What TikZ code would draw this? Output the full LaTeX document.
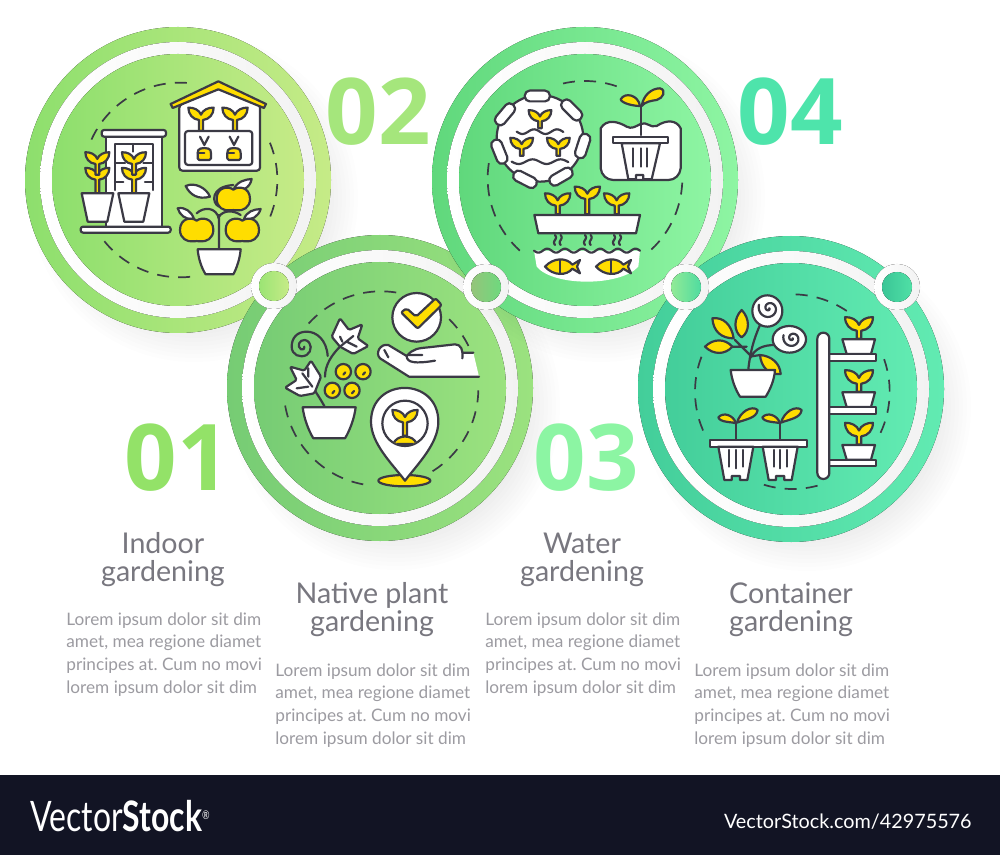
\documentclass[tikz,border=0pt]{standalone}
\usepackage{fontspec}
\setmainfont{Lato}
\newfontfamily\numfont{Open Sans}
\usepackage{tikz}
\usetikzlibrary{positioning}

\definecolor{inkc}{HTML}{3B3A45}
\definecolor{sunc}{HTML}{FFDD00}
\definecolor{stripc}{HTML}{121424}
\definecolor{titlec}{HTML}{78777F}
\definecolor{bodyc}{HTML}{9C9BA1}
\definecolor{n1}{HTML}{93E268}
\definecolor{n2}{HTML}{A5E67C}
\definecolor{n3}{HTML}{8CF5A3}
\definecolor{n4}{HTML}{4EE4AB}

\tikzset{
	inkline/.style={draw=inkc,line width=1.1pt,line join=round,line cap=round},
	whitepart/.style={inkline,fill=white},
	yellowpart/.style={inkline,fill=sunc},
	dashring/.style={draw=inkc,line width=.85pt,dash pattern=on 6pt off 4.6pt},
	softshade/.style={left color=white,right color=black!5},
	heading/.style={text=titlec,font=\fontsize{14.3}{14}\selectfont,align=center,inner sep=0pt},
	blurb/.style={text=bodyc,font=\fontsize{8.6}{11.35}\selectfont,align=left,inner sep=0pt,anchor=north west},
	numeral/.style={font=\numfont\fontsize{46}{46}\selectfont\bfseries,inner sep=0pt},
	sprout/.pic={
		\draw[yellowpart] (-6,#1) -- (-6,2) .. controls (-25,0) and (-38,-15) .. (-38,-35)
			.. controls (-22,-36) and (-5,-28) .. (0,-14)
			.. controls (5,-28) and (22,-36) .. (38,-35)
			.. controls (38,-15) and (25,0) .. (6,2) -- (6,#1) -- cycle;
	},
	apple/.pic={
		\draw[yellowpart] (0,-28) .. controls (15,-40) and (50,-36) .. (50,0)
			.. controls (50,26) and (28,36) .. (12,34) .. controls (5,33) and (-5,33) .. (-12,34)
			.. controls (-28,36) and (-50,26) .. (-50,0) .. controls (-50,-36) and (-15,-40) .. (0,-28) -- cycle;
	},
	swirl/.pic={
		\draw[inkline] plot[domain=0:560,samples=40,smooth] ({#1*(\x/560)*cos(\x)},{#1*(\x/560)*sin(\x)});
	},
	fish/.pic={
		\draw[yellowpart] (-50,0) .. controls (-25,-28) and (15,-28) .. (32,-6) -- (55,-20) -- (46,0) -- (55,20) -- (32,6)
			.. controls (15,28) and (-25,28) .. (-50,0) -- cycle;
		\draw[inkline] (-5,-20) -- (-5,20);
	},
}

\begin{document}
\frenchspacing
\begin{tikzpicture}[x=.5pt,y=-.5pt]
	\useasboundingbox (0,0) rectangle (1000,855);
	\fill[white] (0,0) rectangle (1000,855);

	\coordinate (hub1) at (178,180);
	\coordinate (hub2) at (380,388);
	\coordinate (hub3) at (585,180);
	\coordinate (hub4) at (791,389);

	% the four discs
	\foreach \n/\l/\r in {1/8DDF6D/C6EB87, 2/76CC74/9BE27F, 3/60D87C/8EF5A3, 4/43CE9A/62EBB2}{
		\definecolor{lc}{HTML}{\l}
		\definecolor{rc}{HTML}{\r}
		\foreach \s in {132,136,...,164}
			\fill[black,opacity=.009] (hub\n) ++(16,18) circle[radius=\s];
		\fill[left color=lc,right color=rc] (hub\n) circle[radius=153];
		\fill[softshade] (hub\n) circle[radius=138];
		\fill[left color=lc,right color=rc] (hub\n) circle[radius=126];
	}

	% small joints
	\foreach \x/\y/\l/\r in {274/286/9BE474/C6EB87, 486/287/95C47A/6ED97E, 686/287/92EA96/4FDBA0, 897/287/3AC596/50E0A6}{
		\definecolor{lc}{HTML}{\l}
		\definecolor{rc}{HTML}{\r}
		\fill[softshade] (\x,\y) circle[radius=23];
		\fill[left color=lc,right color=rc] (\x,\y) circle[radius=15];
	}

	% indoor
	\begin{scope}[shift={(20,20)},scale=1/3]
		\foreach \a/\b in {86/157, 219/279, -22/24}
			\draw[dashring] (480,480) ++(-\a:292) arc[start angle=-\a,end angle=-\b,radius=292];
		\draw[whitepart] (258,345) rectangle (425,620);
		\draw[inkline] (285,510) -- (285,372) -- (398,372) -- (398,510);
		\draw[inkline] (285,430) -- (315,430) (370,430) -- (398,430) (340,372) -- (340,395) (285,487) -- (310,487) (375,487) -- (398,487);
		\draw[whitepart,rounded corners=1.2pt] (245,330) rectangle (438,350);
		\draw[whitepart,rounded corners=1.2pt] (182,620) rectangle (452,638);
		\foreach \x in {232,342}{
			\pic[transform shape,scale=.95] at (\x,477) {sprout=45};
			\pic[transform shape,scale=.95] at (\x,430) {sprout=36};
		}
		\draw[whitepart] (185,520) -- (280,520) -- (262,605) -- (203,605) -- cycle;
		\draw[whitepart] (295,520) -- (388,520) -- (370,605) -- (313,605) -- cycle;
		% house
		\draw[whitepart,rounded corners=1.5pt] (478,255) -- (595,205) -- (720,255) -- (720,452) -- (478,452) -- cycle;
		\pic[transform shape] at (543,298) {sprout=35};
		\pic[transform shape] at (645,298) {sprout=35};
		\draw[whitepart,rounded corners=1.5pt] (495,333) rectangle (697,435);
		\foreach \x in {553,642}{
			\draw[inkline] (\x-13,350) -- (\x,375) -- (\x+13,350);
			\draw[yellowpart,rounded corners=.8pt] (\x-20,420) -- (\x-20,395) .. controls (\x-15,382) and (\x+15,382) .. (\x+20,395) -- (\x+20,420) -- cycle;
			\draw[inkline] (\x-20,400) -- (\x,400);
		}
		\draw[yellowpart] (452,252) -- (595,184) -- (738,252) -- (732,264) -- (595,208) -- (458,264) -- cycle;
		% apple tree
		\draw[inkline] (597,685) -- (597,585) (597,598) .. controls (590,560) and (550,560) .. (530,580)
			(597,590) .. controls (610,570) and (640,570) .. (662,585)
			(597,560) .. controls (575,550) and (570,500) .. (640,495);
		\draw[whitepart] (497,498) .. controls (525,485) and (560,505) .. (570,530) .. controls (535,540) and (510,525) .. (497,498) -- cycle;
		\draw[whitepart] (473,565) .. controls (495,560) and (515,575) .. (522,597) .. controls (495,600) and (480,585) .. (473,565) -- cycle;
		\draw[whitepart] (640,510) .. controls (650,485) and (675,478) .. (695,477) .. controls (690,505) and (665,515) .. (640,510) -- cycle;
		\draw[whitepart] (672,597) .. controls (680,575) and (700,568) .. (722,567) .. controls (715,590) and (695,602) .. (672,597) -- cycle;
		\pic[transform shape] at (640,537) {apple};
		\pic[transform shape] at (530,630) {apple};
		\pic[transform shape] at (667,630) {apple};
		\draw[whitepart] (533,688) -- (662,688) .. controls (660,715) and (650,745) .. (640,763) -- (557,763) .. controls (545,745) and (535,715) .. (533,688) -- cycle;
	\end{scope}

	% native plant
	\begin{scope}[shift={(225,230)},scale=1/3]
		\foreach \a/\b in {81/140, 190/262, -58/2, 26/46}
			\draw[dashring] (468,476) ++(-\a:292) arc[start angle=-\a,end angle=-\b,radius=292];
		\draw[inkline] (298,528) .. controls (285,505) and (275,490) .. (262,470)
			(300,440) .. controls (300,405) and (320,375) .. (345,350)
			(308,378) .. controls (305,330) and (275,305) .. (245,305) .. controls (215,305) and (200,325) .. (200,350)
			.. controls (200,375) and (225,385) .. (245,375) .. controls (262,365) and (262,335) .. (240,330)
			.. controls (222,328) and (215,350) .. (228,358) .. controls (235,362) and (240,355) .. (238,350);
		\draw[whitepart,rounded corners=.7pt] (345,265) -- (372,300) -- (412,283) -- (398,325) -- (430,348) -- (385,372) -- (345,350) -- (320,320) -- cycle;
		\draw[inkline] (345,350) -- (385,318) (345,320) -- (352,335) (395,350) -- (365,335);
		\draw[whitepart,rounded corners=.7pt] (258,392) -- (288,440) -- (268,490) -- (225,498) -- (180,473) -- (215,450) -- (195,410) -- (238,422) -- cycle;
		\draw[inkline] (262,470) -- (232,430) (250,440) -- (250,415) (215,475) -- (250,470);
		\foreach \x/\y in {355/425, 414/425, 322/481, 381/481}{
			\draw[yellowpart] (\x,\y) circle[radius=23];
			\draw[inkline] (\x,\y+9) -- (\x+6,\y+2);
		}
		\draw[whitepart] (233,532) -- (392,532) .. controls (388,565) and (375,600) .. (360,625) -- (265,625) .. controls (250,600) and (237,565) .. (233,532) -- cycle;
		% check in hand
		\draw[whitepart] (575,262) circle[radius=73];
		\draw[yellowpart,rounded corners=1pt] (528,247) -- (545,235) -- (573,260) -- (632,205) -- (650,225) -- (578,296) -- cycle;
		\fill[white] (762,440) -- (552,440) -- (465,385) .. controls (450,370) and (465,340) .. (490,345) -- (545,378) .. controls (565,355) and (580,355) .. (610,352) -- (690,343) .. controls (708,343) and (715,360) .. (712,368) -- (745,368) -- cycle;
		\draw[inkline] (762,440) -- (552,440) -- (465,385) .. controls (450,370) and (465,340) .. (490,345) -- (545,378) .. controls (565,355) and (580,355) .. (610,352) -- (690,343) .. controls (708,343) and (715,360) .. (712,385) (712,368) -- (745,368);
		\draw[inkline] (478,360) -- (490,382) (545,378) .. controls (545,398) and (570,402) .. (630,392) (550,375) -- (592,375);
		% pin
		\draw[yellowpart] (538,752) ellipse[x radius=78,y radius=17];
		\draw[whitepart] (540,752) .. controls (500,700) and (438,640) .. (438,575) .. controls (438,440) and (640,440) .. (640,575) .. controls (640,640) and (580,700) .. (540,752) -- cycle;
		\draw[whitepart] (540,580) circle[radius=68];
		\begin{scope}
			\clip (540,580) circle[radius=66];
			\draw[yellowpart] (505,642) .. controls (515,612) and (565,612) .. (575,642) -- cycle;
		\end{scope}
		\pic[transform shape] at (540,575) {sprout=42};
	\end{scope}

	% water
	\begin{scope}[shift={(430,20)},scale=1/3]
		\foreach \a/\b in {71/105, 171/230, -47/0}
			\draw[dashring] (465,475) ++(-\a:292) arc[start angle=-\a,end angle=-\b,radius=292];
		\draw[whitepart] (330,355) circle[radius=130];
		\foreach \x/\y/\r [count=\i] in {322/228/0, 225/283/50, 425/270/-45, 208/395/-68, 458/378/72, 285/478/-27, 393/470/30}
			\node (pad\i) [whitepart,rounded corners=2.4pt,rotate=\r,minimum width=12.5pt,minimum height=5.4pt,inner sep=0pt] at (\x,\y) {};
		\draw[inkline] plot[domain=0:140,samples=30,smooth] ({260+\x},{335+7*sin(\x*5.2)});
		\draw[inkline] plot[domain=0:170,samples=36,smooth] ({245+\x},{425+7*sin(\x*4.3)});
		\pic[transform shape,scale=.9] at (330,302) {sprout=25};
		\pic[transform shape,scale=.9] at (275,385) {sprout=25};
		\pic[transform shape,scale=.9] at (385,385) {sprout=25};
		% net pot
		\draw[whitepart] (512,325) .. controls (530,295) and (565,305) .. (590,320) .. controls (605,328) and (615,320) .. (632,312) .. controls (650,303) and (660,325) .. (680,318) .. controls (710,298) and (740,300) .. (752,325) -- (752,445) .. controls (750,465) and (735,480) .. (715,480) -- (550,480) .. controls (530,480) and (514,465) .. (512,445) -- cycle;
		\draw[inkline] (632,345) -- (632,258);
		\draw[yellowpart] (630,258) .. controls (610,258) and (575,250) .. (572,238) .. controls (585,215) and (625,225) .. (630,258) -- cycle;
		\draw[yellowpart] (635,258) .. controls (640,225) and (665,205) .. (690,205) .. controls (710,210) and (700,235) .. (680,240) .. controls (665,242) and (645,245) .. (635,258) -- cycle;
		\draw[whitepart] (550,350) rectangle (715,370);
		\draw[whitepart] (575,370) -- (690,370) -- (665,478) -- (640,478) -- (640,465) -- (618,465) -- (618,478) -- (595,478) -- cycle;
		\draw[inkline] (610,385) -- (610,440) (632,385) -- (632,440) (652,385) -- (652,440);
		% aquaponic tray
		\pic[transform shape] at (383,555) {sprout=28};
		\pic[transform shape] at (472,535) {sprout=48};
		\pic[transform shape] at (560,555) {sprout=28};
		\draw[whitepart] (313,585) -- (630,585) -- (618,640) -- (325,640) -- cycle;
		\foreach \x in {375,392,465,482,552,570}
			\draw[inkline] plot[variable=\t,domain=0:30,samples=12,smooth] ({\x+3*sin(\t*12)},{645+\t});
		\fill[white] (312,692) -- (630,692) -- (625,740) .. controls (570,800) and (370,800) .. (320,740) -- cycle;
		\draw[inkline] plot[domain=0:318,samples=80,smooth] ({312+\x},{692+6*sin(\x*6.8)});
		\pic[transform shape] at (395,740) {fish};
		\pic[transform shape] at (548,740) {fish};
	\end{scope}

	% container
	\begin{scope}[shift={(635,230)},scale=1/3]
		\foreach \a/\b in {56/90, -25/22, 159/206, 253/287}
			\draw[dashring] (472,485) ++(-\a:292) arc[start angle=-\a,end angle=-\b,radius=292];
		\draw[inkline] (340,418) .. controls (345,370) and (355,330) .. (375,285)
			(345,385) .. controls (360,355) and (385,345) .. (420,345)
			(345,375) -- (300,330) (335,350) -- (290,350) (345,380) -- (375,375);
		\draw[yellowpart] (232,265) .. controls (265,260) and (290,285) .. (296,325) .. controls (260,325) and (235,305) .. (232,265) -- cycle;
		\draw[yellowpart] (320,240) .. controls (345,265) and (345,305) .. (320,322) .. controls (295,305) and (295,265) .. (320,240) -- cycle;
		\draw[yellowpart] (210,350) .. controls (235,325) and (270,325) .. (292,350) .. controls (270,375) and (235,375) .. (210,350) -- cycle;
		\draw[yellowpart] (375,375) .. controls (410,378) and (435,400) .. (437,432) .. controls (400,435) and (378,410) .. (375,375) -- cycle;
		\draw[whitepart] (397,243) ellipse[x radius=45,y radius=47];
		\draw[whitepart] (463,328) ellipse[x radius=50,y radius=40];
		\pic[transform shape] at (402,235) {swirl=32};
		\pic[transform shape] at (472,325) {swirl=28};
		\draw[whitepart] (287,420) -- (420,420) .. controls (418,450) and (405,480) .. (392,500) -- (315,500) .. controls (302,480) and (290,450) .. (287,420) -- cycle;
		% planters
		\foreach \x in {0,132}{
			\draw[inkline] (303+\x,630) -- (303+\x,580);
			\draw[yellowpart] (303+\x,580) .. controls (290+\x,575) and (255+\x,578) .. (250+\x,562) .. controls (265+\x,545) and (295+\x,555) .. (303+\x,580) -- cycle;
			\draw[yellowpart] (306+\x,578) .. controls (315+\x,545) and (350+\x,525) .. (368+\x,540) .. controls (365+\x,565) and (330+\x,568) .. (306+\x,578) -- cycle;
		}
		\draw[whitepart] (225,630) rectangle (517,650);
		\foreach \x in {0,133}{
			\draw[whitepart] (250+\x,650) -- (355+\x,650) -- (337+\x,750) -- (315+\x,750) -- (315+\x,738) -- (290+\x,738) -- (290+\x,750) -- (268+\x,750) -- cycle;
			\draw[inkline] (283+\x,660) -- (283+\x,710) (303+\x,660) -- (303+\x,715) (323+\x,660) -- (323+\x,710);
		}
		% rack
		\foreach \y in {0,159,317}{
			\pic[transform shape,scale=1.1] at (672,\y+300) {sprout=24};
			\draw[whitepart] (622,\y+328) -- (720,\y+328) -- (708,\y+372) -- (635,\y+372) -- cycle;
			\draw[whitepart] (580,\y+373) rectangle (723,\y+392);
		}
		\draw[whitepart,rounded corners=3pt] (547,308) rectangle (583,747);
	\end{scope}

	% numbers
	\node (num1) [numeral,text=n1] at (177,458) {01};
	\node (num2) [numeral,text=n2] at (378,112) {02};
	\node (num3) [numeral,text=n3] at (586,458) {03};
	\node (num4) [numeral,text=n4] at (790,112) {04};

	% captions
	\node (title1) [heading] at (163,560) {Indoor\\gardening};
	\node (title2) [heading] at (372,610) {Native plant\\gardening};
	\node (title3) [heading] at (582,560) {Water\\gardening};
	\node (title4) [heading] at (791,610) {Container\\gardening};
	\foreach \n/\x/\y in {1/66/612, 2/275/663, 3/485/612, 4/694/663}
		\node (text\n) [blurb] at (\x,\y) {Lorem ipsum dolor sit dim\\amet, mea regione diamet\\principes at. Cum no movi\\lorem ipsum dolor sit dim};

	% footer strip
	\fill[stripc] (0,775) rectangle (1000,855);
	\node (logo) [text=white,inner sep=0pt,anchor=west] at (30,816) {\scalebox{.76}[1]{\fontsize{21}{21}\selectfont Vector\textbf{Stock}\raisebox{6pt}{\fontsize{6}{6}\selectfont ®}}};
	\node (serial) [text=white,inner sep=0pt,anchor=east] at (972,822) {\fontsize{9.9}{10}\selectfont VectorStock.com/42975576};
\end{tikzpicture}
\end{document}
